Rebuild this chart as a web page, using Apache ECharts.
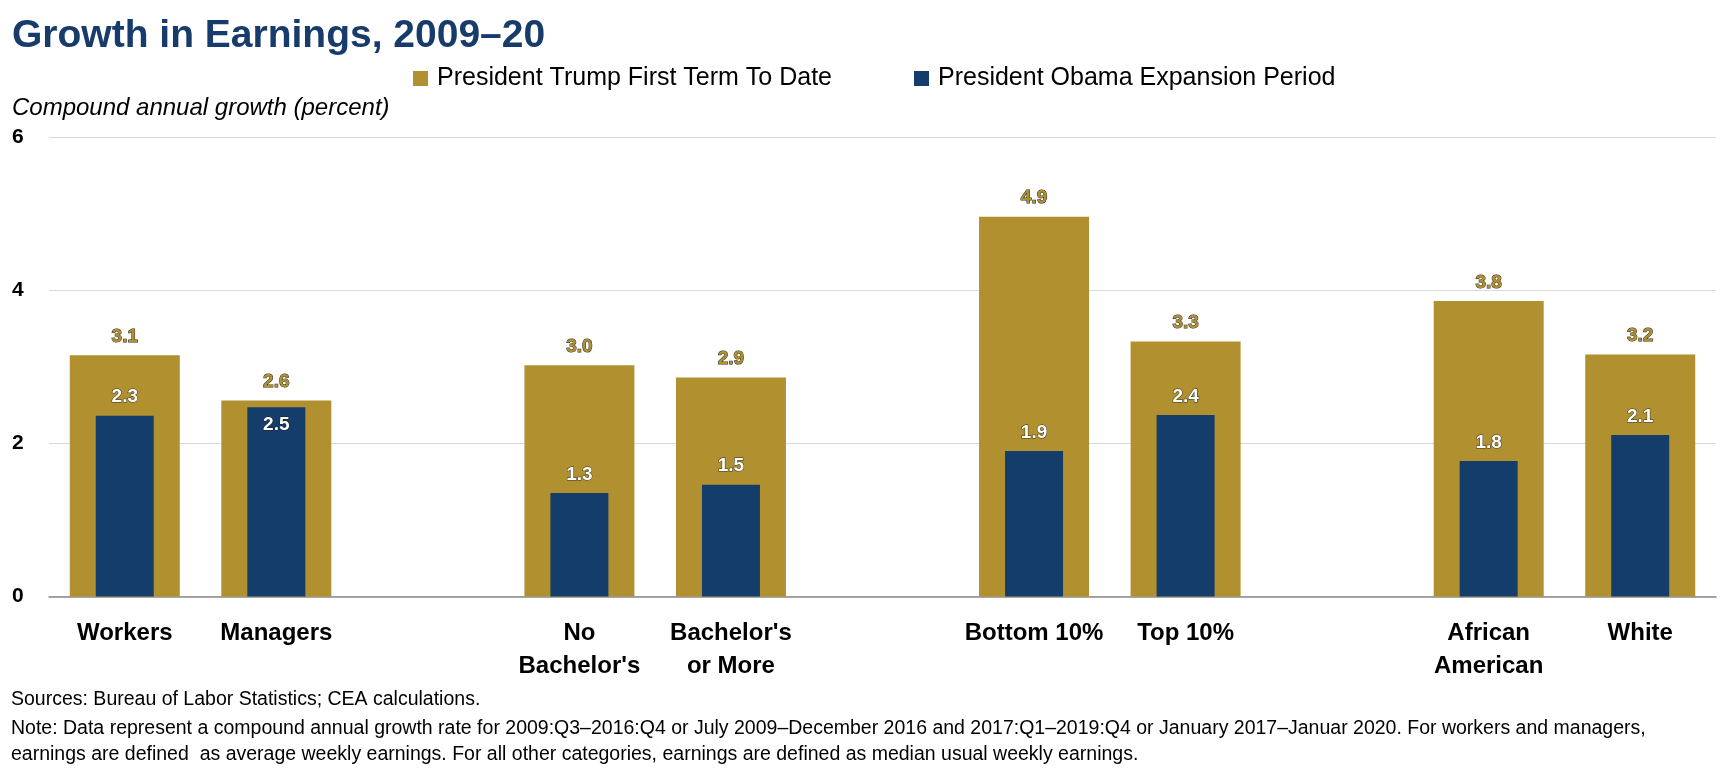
<!DOCTYPE html>
<html>
<head>
<meta charset="utf-8">
<title>Growth in Earnings, 2009–20</title>
<script src="https://cdn.jsdelivr.net/npm/echarts@6/dist/echarts.min.js"></script>
<style>
  html, body { margin: 0; padding: 0; background: #fff; }
  #main { width: 1728px; height: 769px; }
</style>
</head>
<body>
<div id="main"></div>
<script>
// categories, in groups of two
const categories = ['Workers', 'Managers', 'No\nBachelor\'s', 'Bachelor\'s\nor More',
  'Bottom 10%', 'Top 10%', 'African\nAmerican', 'White'];

// compound annual growth (percent)
const trumpValues = [3.15, 2.56, 3.02, 2.86, 4.96, 3.33, 3.86, 3.16];
const obamaValues = [2.36, 2.47, 1.35, 1.46, 1.90, 2.37, 1.77, 2.11];

// printed labels on the bars
const trumpLabels = ['3.1', '2.6', '3.0', '2.9', '4.9', '3.3', '3.8', '3.2'];
const obamaLabels = ['2.3', '2.5', '1.3', '1.5', '1.9', '2.4', '1.8', '2.1'];

const yTicks = [0, 2, 4, 6];

const GOLD = '#B0902F';
const BLUE = '#143D6B';
const FONT = 'Liberation Sans, Arial, sans-serif';

// put an empty slot between each pair of categories
function withGaps(arr, blank) {
  const out = [];
  arr.forEach((v, i) => {
    out.push(v);
    if (i % 2 === 1 && i < arr.length - 1) out.push(blank);
  });
  return out;
}

const axisCats = withGaps(categories, '');
const trumpData = withGaps(trumpValues.map((v, i) => ({ value: v, label: { formatter: trumpLabels[i] } })), '-');
const obamaData = withGaps(obamaValues.map((v, i) => {
  const item = { value: v, label: { formatter: obamaLabels[i] } };
  // the Managers label sits inside its bar
  if (i === 1) { item.label.position = 'insideTop'; item.label.distance = 8; }
  return item;
}), '-');

const chart = echarts.init(document.getElementById('main'));

const option = {
  animation: false,
  textStyle: { fontFamily: FONT },
  title: {
    text: 'Growth in Earnings, 2009–20',
    left: 12,
    top: 17,
    padding: 0,
    textStyle: { fontFamily: FONT, fontSize: 39, fontWeight: 'bold', color: '#173C6B' }
  },
  legend: {
    left: 413,
    top: 66,
    padding: 0,
    icon: 'rect',
    itemWidth: 15,
    itemHeight: 15,
    itemGap: 82,
    textStyle: { fontFamily: FONT, fontSize: 25, color: '#000', padding: [0, 0, 0, 4] },
    data: ['President Trump First Term To Date', 'President Obama Expansion Period']
  },
  grid: { left: 49, right: 12, top: 137, bottom: 172.5 },
  xAxis: [
    {
      type: 'category',
      data: axisCats,
      axisLine: { lineStyle: { color: '#8a8a8a', width: 1.5 } },
      axisTick: { show: false },
      axisLabel: {
        interval: 0,
        margin: 20,
        fontFamily: FONT,
        fontSize: 24,
        fontWeight: 'bold',
        color: '#000',
        lineHeight: 33
      }
    },
    { type: 'category', data: axisCats, show: false }
  ],
  yAxis: {
    type: 'value',
    min: yTicks[0],
    max: yTicks[yTicks.length - 1],
    interval: 2,
    axisLine: { show: false },
    axisTick: { show: false },
    splitLine: { lineStyle: { color: '#d9d9d9', width: 1 } },
    axisLabel: {
      align: 'left',
      margin: 37,
      fontFamily: FONT,
      fontSize: 21,
      fontWeight: 'bold',
      color: '#000'
    }
  },
  series: [
    {
      name: 'President Trump First Term To Date',
      type: 'bar',
      xAxisIndex: 0,
      barWidth: 110,
      itemStyle: { color: GOLD },
      label: {
        show: true,
        position: 'top',
        distance: 9,
        fontFamily: FONT,
        fontSize: 19,
        fontWeight: 'bold',
        color: GOLD,
        textBorderColor: '#2a2a2a',
        textBorderWidth: 1
      },
      data: trumpData
    },
    {
      name: 'President Obama Expansion Period',
      type: 'bar',
      xAxisIndex: 1,
      barWidth: 58,
      itemStyle: { color: BLUE },
      label: {
        show: true,
        position: 'top',
        distance: 9,
        fontFamily: FONT,
        fontSize: 19,
        fontWeight: 'bold',
        color: '#fff',
        textBorderColor: 'rgba(30,30,30,0.85)',
        textBorderWidth: 1
      },
      data: obamaData
    }
  ],
  graphic: [
    {
      type: 'text', left: 12, top: 96,
      style: { text: 'Compound annual growth (percent)', fontFamily: FONT, fontSize: 24, fontStyle: 'italic', fill: '#000' }
    },
    {
      type: 'text', left: 11, top: 690,
      style: { text: 'Sources: Bureau of Labor Statistics; CEA calculations.', fontFamily: FONT, fontSize: 19.5, fill: '#000' }
    },
    {
      type: 'text', left: 11, top: 719,
      style: {
        text: 'Note: Data represent a compound annual growth rate for 2009:Q3–2016:Q4 or July 2009–December 2016 and 2017:Q1–2019:Q4 or January 2017–Januar 2020. For workers and managers,',
        fontFamily: FONT, fontSize: 19.5, fill: '#000'
      }
    },
    {
      type: 'text', left: 11, top: 745,
      style: {
        text: 'earnings are defined  as average weekly earnings. For all other categories, earnings are defined as median usual weekly earnings.',
        fontFamily: FONT, fontSize: 19.5, fill: '#000'
      }
    }
  ]
};

chart.setOption(option);
</script>
</body>
</html>
